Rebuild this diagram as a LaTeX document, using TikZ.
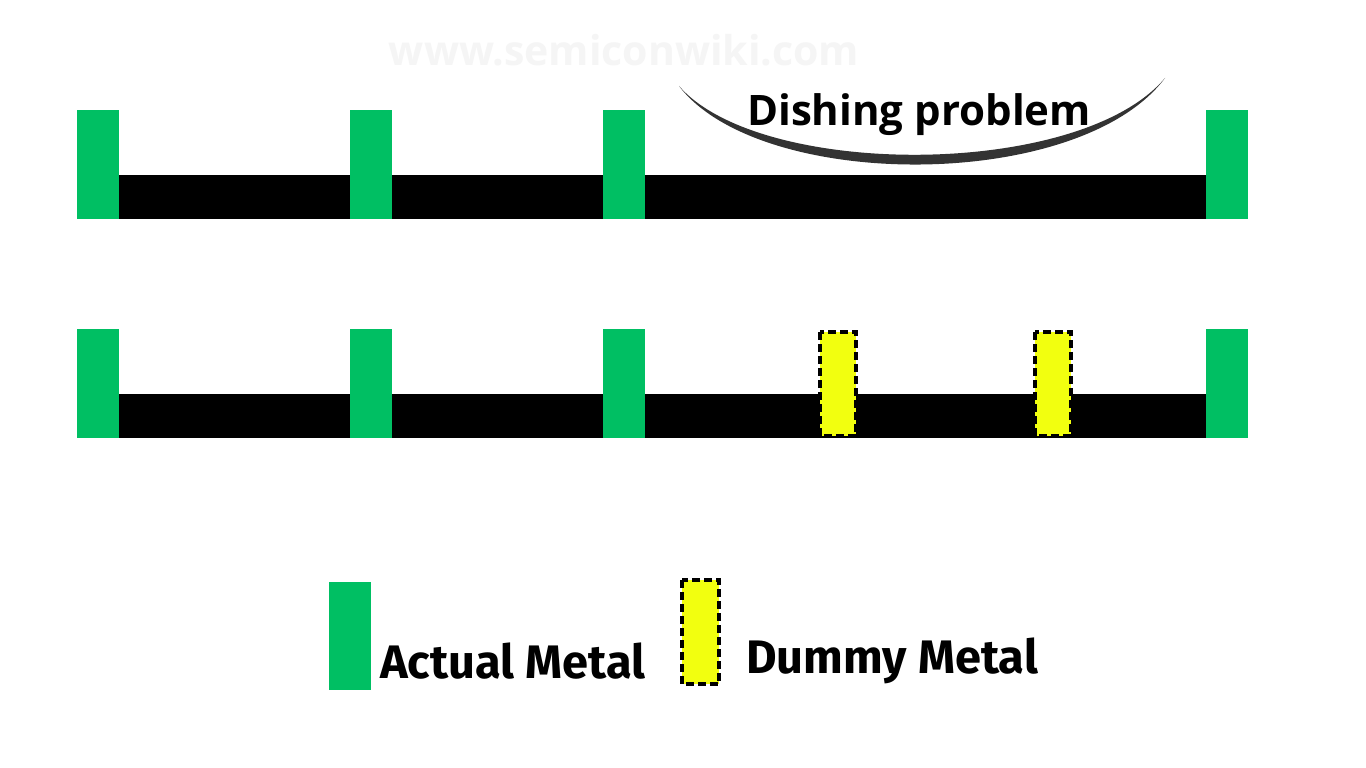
\documentclass[tikz,border=0pt]{standalone}
\usepackage{fontspec}
\setmainfont{Open Sans}
\newfontfamily\legfont{Fira Sans}
\definecolor{metalgreen}{HTML}{00BF63}
\definecolor{dummyyellow}{HTML}{F2FF0F}
\definecolor{wm}{HTML}{F5F5F5}
\begin{document}
\begin{tikzpicture}[x=1pt,y=-1pt,
  actual/.style={fill=metalgreen,draw=none},
  dummy/.style={fill=dummyyellow,draw=black,line width=3.6pt,dash pattern=on 8pt off 4pt},
  bar/.style={fill=black,draw=none},
  lbl/.style={anchor=base west,inner sep=0pt,font=\legfont\bfseries\fontsize{47}{50}\selectfont}]
\useasboundingbox (0,0) rectangle (1366,768);
\fill[white] (0,0) rectangle (1366,768);
% watermark
\node[anchor=base,inner sep=0pt,text=wm,font=\bfseries\fontsize{41}{44}\selectfont] (wmark) at (624,66) {www.semiconwiki.com};
% top row
\fill[bar] (77,175) rectangle (1248,219);
\fill[actual] (77,110) rectangle (119,219);
\fill[actual] (350,110) rectangle (392,219);
\fill[actual] (603,110) rectangle (645,219);
\fill[actual] (1206,110) rectangle (1248,219);
% dishing curve
\fill[black!80] (679,86) .. controls (760,192) and (1080,192) .. (1165,78)
  .. controls (1080,179) and (760,179) .. (679,86) -- cycle;
\node[anchor=base west,inner sep=0pt,font=\bfseries\fontsize{42}{46}\selectfont] (dish) at (747,125) {Dishing problem};
% bottom row
\fill[bar] (77,394) rectangle (1248,438);
\fill[actual] (77,329) rectangle (119,438);
\fill[actual] (350,329) rectangle (392,438);
\fill[actual] (603,329) rectangle (645,438);
\fill[actual] (1206,329) rectangle (1248,438);
\draw[dummy] (820,332) rectangle (856,436);
\draw[dummy] (1035,332) rectangle (1071,436);
% legend
\fill[actual] (329,582) rectangle (371,690);
\node[lbl] (actlbl) at (380,678) {Actual Metal};
\draw[dummy] (682,580) rectangle (719,684);
\node[lbl] (dumlbl) at (746,673) {Dummy Metal};
\end{tikzpicture}
\end{document}
